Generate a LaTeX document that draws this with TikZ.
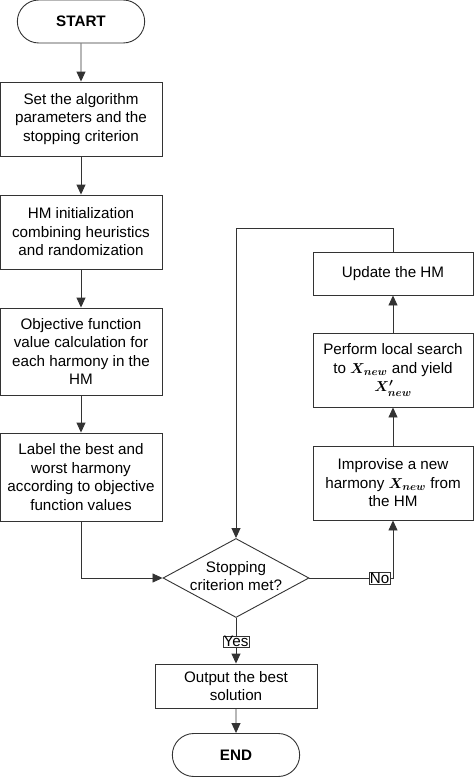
\documentclass[tikz,border=0pt]{standalone}
\usepackage{amsmath}
\usepackage{amssymb}
\usepackage{fontspec}
\setmainfont{Liberation Sans}
\usetikzlibrary{arrows.meta,%
                shapes.geometric,%
                shapes.misc}

\begin{document}
\begin{tikzpicture}[x=1pt,y=-1pt,
		every node/.style={font=\fontsize{15.2}{18.5}\selectfont},
		Process/.style={draw=black!80,line width=0.9pt,rectangle,align=center,inner sep=0pt},
		Terminal/.style={draw=black!80,line width=0.9pt,rounded rectangle,minimum width=134pt,minimum height=43pt,font=\fontsize{15.2}{18.5}\selectfont\bfseries},
		Decision/.style={draw=black!80,line width=0.9pt,diamond,shape aspect=1.85,minimum width=146pt,minimum height=79pt,inner sep=0pt},
		Answer/.style={draw=black!80,line width=0.5pt,fill=white,inner sep=0.5pt},
		EdgeStyle/.style={draw=black!80,line width=0.9pt,-{Triangle[length=10pt,width=9pt]}}]
		\useasboundingbox (0,0) rectangle (474,777);
		% main column
		\node[Terminal] (start) at (81,21.5) {START};
		\node[Process,minimum width=162pt,minimum height=74pt] (setpar) at (81,119) {Set the algorithm\\parameters and the\\stopping criterion};
		\node[Process,minimum width=162pt,minimum height=74pt] (init) at (81,232) {HM initialization\\combining heuristics\\and randomization};
		\node[Process,minimum width=162pt,minimum height=87pt] (objval) at (81,351.5) {Objective function\\value calculation for\\each harmony in the\\HM};
		\node[Process,minimum width=162pt,minimum height=88pt] (label) at (81,477) {Label the best and\\worst harmony\\according to objective\\function values};
		\node[Decision] (stop) at (236,578) {\makebox[50pt]{\begin{tabular}{@{}c@{}}Stopping\\criterion met?\end{tabular}}};
		\node[Process,minimum width=162pt,minimum height=44pt] (output) at (236,686) {Output the best\\solution};
		\node[Terminal] (finish) at (236,755) {END};
		% loop column
		\node[Process,minimum width=160pt,minimum height=74pt] (impro) at (393,483) {Improvise a new\\harmony $\boldsymbol{X_{new}}$ from\\the HM};
		\node[Process,minimum width=160pt,minimum height=74pt] (local) at (393,370) {Perform local search\\to $\boldsymbol{X_{new}}$ and yield\\$\boldsymbol{X'_{new}}$};
		\node[Process,minimum width=160pt,minimum height=43pt] (update) at (393,273.5) {Update the HM};
		% connectors
		\draw[EdgeStyle] (start) -- (setpar);
		\draw[EdgeStyle] (setpar) -- (init);
		\draw[EdgeStyle] (init) -- (objval);
		\draw[EdgeStyle] (objval) -- (label);
		\draw[EdgeStyle] (label) |- (stop);
		\draw[EdgeStyle] (stop) -- node[Answer,pos=0.52] (yes) {Yes} (output);
		\draw[EdgeStyle] (output) -- (finish);
		\draw[EdgeStyle] (stop) -| node[Answer,pos=0.42] (no) {No} (impro);
		\draw[EdgeStyle] (impro) -- (local);
		\draw[EdgeStyle] (local) -- (update);
		\draw[EdgeStyle] (update.north) -- ++(0,-23) -| (stop.north);
	\end{tikzpicture}
\end{document}
